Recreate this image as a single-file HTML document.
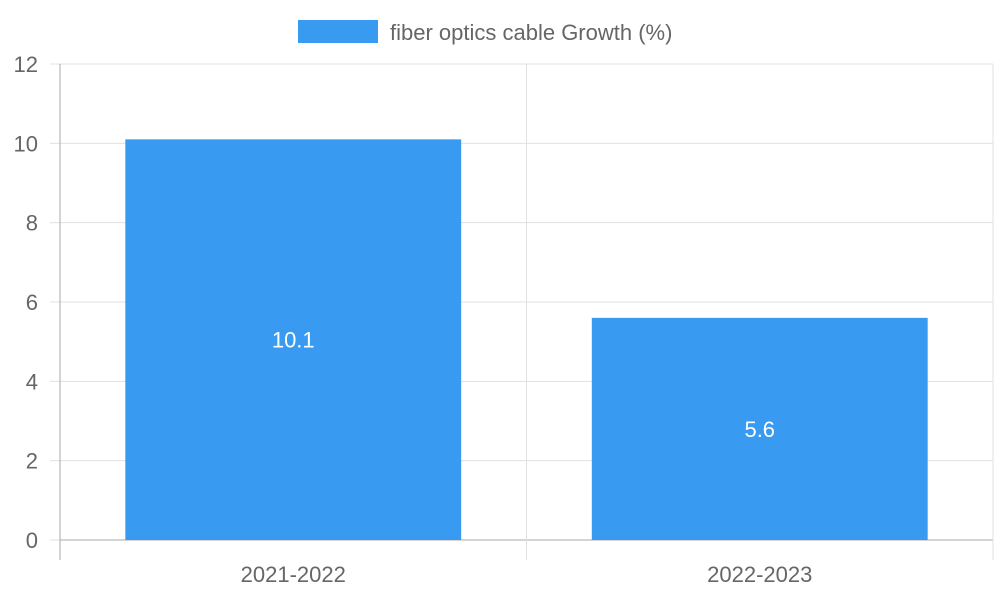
<!DOCTYPE html>
<html><head><meta charset="utf-8"><style>
body{margin:0;background:#fff;}
svg{display:block;font-family:"Liberation Sans",sans-serif;}
</style></head><body>
<svg id="chart" width="1000" height="600">
<g id="legend">
<rect x="298" y="20" width="80" height="23" fill="#389bf1"></rect>
<text x="390" y="40" font-size="22" fill="#666">fiber optics cable Growth (%)</text>
</g>
<g id="grid"></g><g id="bars"></g><g id="labels"></g>
</svg>
<script>
const categories = ["2021-2022","2022-2023"];
const values = [10.1, 5.6];
const yTicks = [0,2,4,6,8,10,12];
const L=60,R=993,T=64,B=540,yMax=12;
const y=v=>B-(v/yMax)*(B-T);
const cw=(R-L)/categories.length;
const x=i=>L+cw*i;
const ns="http://www.w3.org/2000/svg";
const g=document.getElementById('grid'),bg=document.getElementById('bars'),lg=document.getElementById('labels');
function mk(tag,attrs,parent,txt){const e=document.createElementNS(ns,tag);for(const k in attrs)e.setAttribute(k,attrs[k]);if(txt!==undefined)e.textContent=txt;parent.appendChild(e);return e;}
yTicks.forEach(t=>{
  const ln=mk('line',{x1:L,x2:R,y1:y(t),y2:y(t),stroke:t===0?'#aaa':'#e0e0e0','stroke-width':1},g);
  
  
  const tk=mk('line',{x1:L-10,x2:L,y1:y(t),y2:y(t),stroke:'#e0e0e0'},g);
  
  
  const lb=mk('text',{x:L-22,y:y(t)+8,'text-anchor':'end','font-size':22,fill:'#666'},g,String(t));
  
  
});
for(let i=0;i<=categories.length;i++){
  const vl=mk('line',{x1:x(i),x2:x(i),y1:T,y2:B+20,stroke:i===0?'#aaa':'#e0e0e0'},g);
  
  
}
categories.forEach((c,i)=>{
  const cx=x(i)+cw/2,bw=cw*0.72;
  const r=mk('rect',{x:cx-bw/2,y:y(values[i]),width:bw,height:B-y(values[i]),fill:'#389bf1'},bg);
  
  
  const vt=mk('text',{x:cx,y:(y(values[i])+B)/2+8,'text-anchor':'middle','font-size':22,fill:'#fff'},lg,String(values[i]));
  
  
  const xt=mk('text',{x:cx,y:582,'text-anchor':'middle','font-size':22,fill:'#666'},lg,c);
  
  
});
</script>
</body></html>
